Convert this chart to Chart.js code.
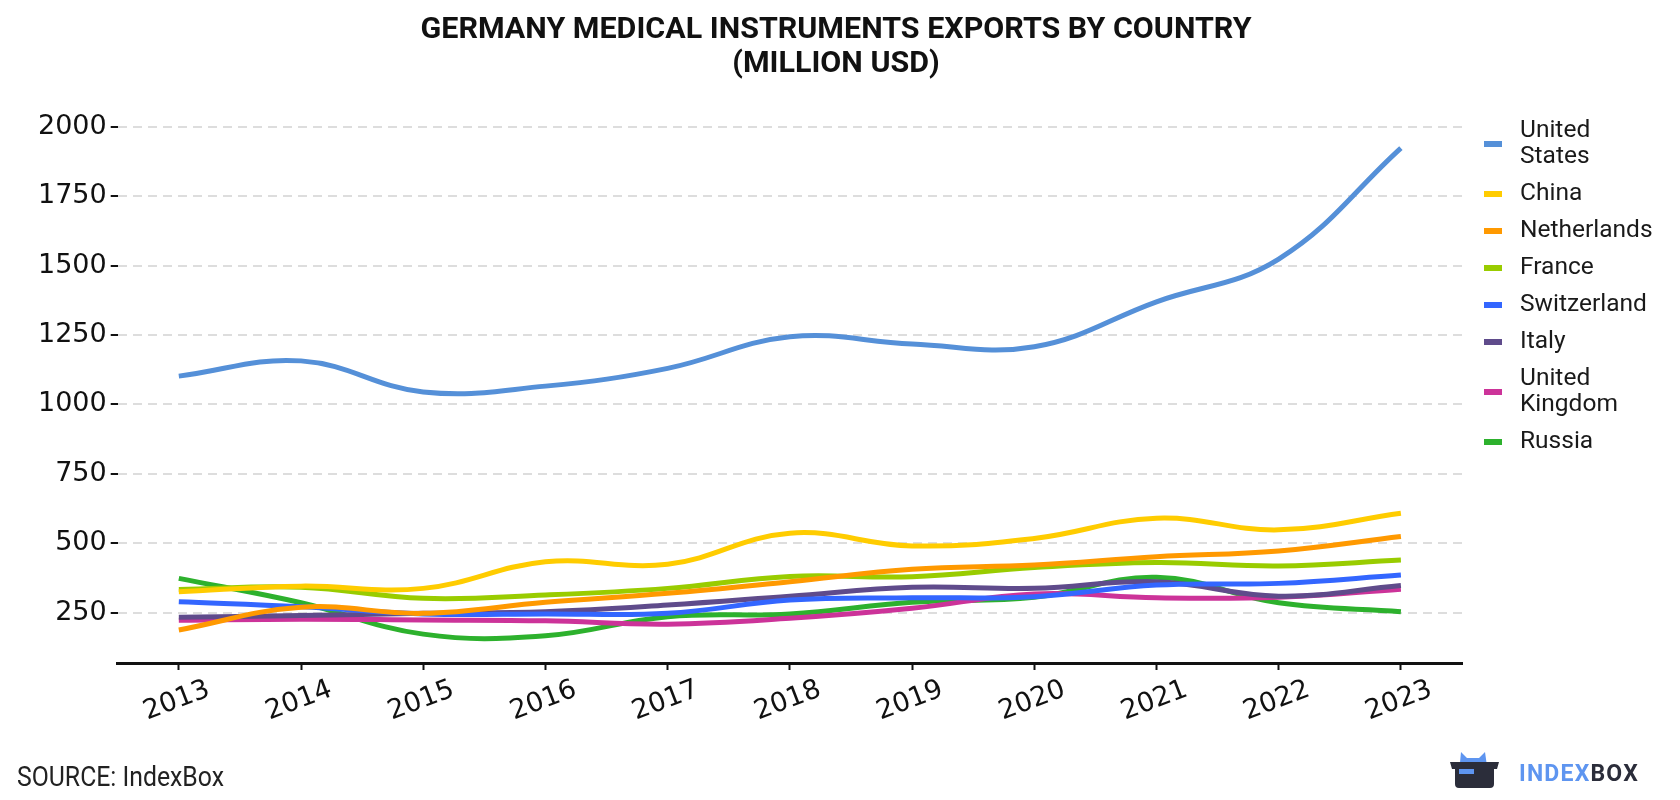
<!DOCTYPE html>
<html>
<head>
<meta charset="utf-8">
<title>Germany Medical Instruments Exports by Country</title>
<script src="https://cdn.jsdelivr.net/npm/chart.js@4.4.1/dist/chart.umd.min.js"></script>
<style>
  html, body { margin: 0; padding: 0; background: #fff; }
  #wrap { width: 1680px; height: 800px; position: relative; }
</style>
</head>
<body>
<div id="wrap"><canvas id="chart" width="1680" height="800"></canvas></div>
<script>
// ─── Data (million USD) ─────────────────────────────────────────────
const years = ["2013", "2014", "2015", "2016", "2017", "2018", "2019", "2020", "2021", "2022", "2023"];

const unitedStates  = [1102, 1157, 1045, 1066, 1130, 1244, 1218, 1208, 1370, 1524, 1924];
const china         = [325, 345, 337, 433, 424, 536, 490, 517, 590, 548, 608];
const netherlands   = [187, 269, 247, 287, 319, 361, 406, 421, 451, 472, 524];
const france        = [333, 341, 301, 313, 337, 380, 379, 412, 430, 418, 439];
const switzerland   = [289, 271, 245, 245, 247, 295, 303, 307, 349, 355, 385];
const italy         = [233, 239, 247, 253, 277, 309, 341, 337, 361, 309, 347];
const unitedKingdom = [222, 226, 223, 220, 208, 229, 265, 317, 303, 305, 334];
const russia        = [373, 285, 172, 166, 235, 245, 287, 305, 377, 285, 253];

const seriesNames  = ["United States", "China", "Netherlands", "France", "Switzerland", "Italy", "United Kingdom", "Russia"];
const seriesValues = [unitedStates, china, netherlands, france, switzerland, italy, unitedKingdom, russia];
const seriesColors = ["#5590d8", "#ffcc00", "#ff9900", "#99cc00", "#3366ff", "#5f4b8b", "#cc3399", "#2db12d"];

const yTicks = [250, 500, 750, 1000, 1250, 1500, 1750, 2000];
const titleLines = ["GERMANY MEDICAL INSTRUMENTS EXPORTS BY COUNTRY", "(MILLION USD)"];
const sourceText = "SOURCE: IndexBox";

// ─── Decorations drawn on the canvas ────────────────────────────────
const decorPlugin = {
  id: "decor",
  afterDraw(chart) {
    const { ctx, chartArea, scales } = chart;
    ctx.save();

    // title (slightly condensed)
    ctx.fillStyle = "#111";
    ctx.font = "bold 29.5px Roboto";
    ctx.textAlign = "center";
    ctx.textBaseline = "alphabetic";
    const sx = 831 / ctx.measureText(titleLines[0]).width;
    [37.5, 71.5].forEach((y, i) => {
      ctx.save();
      ctx.translate(836, y);
      ctx.scale(sx, 1);
      ctx.fillText(titleLines[i], 0, 0);
      ctx.restore();
    });

    // rotated x labels, centred under their ticks
    ctx.font = "27px 'DejaVu Sans'";
    ctx.fillStyle = "#111";
    ctx.textAlign = "center";
    ctx.textBaseline = "middle";
    years.forEach((yr, i) => {
      const x = scales.x.getPixelForValue(i);
      ctx.save();
      ctx.translate(x - 2, chartArea.bottom + 38);
      ctx.rotate(-21 * Math.PI / 180);
      ctx.fillText(yr, 0, 0);
      ctx.restore();
    });

    // legend
    ctx.font = "24.5px Roboto";
    ctx.textAlign = "left";
    ctx.textBaseline = "middle";
    const lineH = 26, gap = 11;
    let y = 118;
    chart.data.datasets.forEach((ds) => {
      const lines = ds.label.startsWith("United ") ? ds.label.split(" ") : [ds.label];
      const h = lines.length * lineH;
      ctx.fillStyle = ds.borderColor;
      ctx.fillRect(1484, y + h / 2 - 3, 18, 6);
      ctx.fillStyle = "#1a1a1a";
      lines.forEach((t, k) => ctx.fillText(t, 1520, y + lineH / 2 + k * lineH));
      y += h + gap;
    });

    // source
    ctx.font = "28px Roboto";
    ctx.fillStyle = "#222";
    ctx.textBaseline = "alphabetic";
    const ssx = 207 / ctx.measureText(sourceText).width;
    ctx.save();
    ctx.translate(17, 785.5);
    ctx.scale(ssx, 1);
    ctx.fillText(sourceText, 0, 0);
    ctx.restore();

    // logo icon
    ctx.fillStyle = "#5e95f0";
    ctx.beginPath();
    ctx.moveTo(1459, 773);
    ctx.lineTo(1461, 752);
    ctx.lineTo(1467, 758);
    ctx.lineTo(1479, 758);
    ctx.lineTo(1485, 752);
    ctx.lineTo(1488, 773);
    ctx.closePath();
    ctx.fill();
    ctx.fillStyle = "#2b2d3a";
    ctx.beginPath();
    ctx.moveTo(1450, 762);
    ctx.lineTo(1499, 762);
    ctx.lineTo(1497, 769);
    ctx.lineTo(1494, 769);
    ctx.lineTo(1494, 784);
    ctx.quadraticCurveTo(1494, 788, 1490, 788);
    ctx.lineTo(1459, 788);
    ctx.quadraticCurveTo(1455, 788, 1455, 784);
    ctx.lineTo(1455, 769);
    ctx.lineTo(1452, 769);
    ctx.closePath();
    ctx.fill();
    ctx.fillStyle = "#5e95f0";
    ctx.fillRect(1459, 769, 15, 5);

    // logo text
    ctx.font = "bold 23px Roboto";
    ctx.letterSpacing = "1.2px";
    ctx.textBaseline = "alphabetic";
    ctx.fillStyle = "#5e95f0";
    ctx.fillText("INDEX", 1519, 781);
    const w = ctx.measureText("INDEX").width;
    ctx.fillStyle = "#2b2d3a";
    ctx.fillText("BOX", 1519 + w, 781);

    ctx.restore();
  },
};

// ─── Chart ──────────────────────────────────────────────────────────
new Chart(document.getElementById("chart").getContext("2d"), {
  type: "line",
  data: {
    labels: years,
    datasets: seriesNames.map((name, i) => ({
      label: name,
      data: seriesValues[i],
      borderColor: seriesColors[i],
      backgroundColor: seriesColors[i],
      borderWidth: 5,
      pointRadius: 0,
      tension: 0.4,
      fill: false,
    })),
  },
  options: {
    responsive: false,
    devicePixelRatio: 1,
    animation: false,
    layout: { padding: { top: 127, left: 34, right: 218, bottom: 130 } },
    plugins: {
      legend: { display: false },
      title: { display: false },
      tooltip: { enabled: false },
    },
    scales: {
      x: {
        offset: true,
        ticks: { display: false },
        grid: {
          drawOnChartArea: false,
          drawTicks: true,
          tickLength: 7,
          tickColor: "#111",
          tickWidth: 2,
        },
        border: { display: true, color: "#111", width: 3 },
      },
      y: {
        min: 68,
        max: 2000,
        afterBuildTicks: (axis) => {
          axis.ticks = yTicks.map((v) => ({ value: v }));
        },
        ticks: {
          color: "#111",
          font: { family: "'DejaVu Sans'", size: 27 },
          padding: 4,
          callback: (v) => String(v),
        },
        grid: {
          color: "#dddddd",
          lineWidth: 2,
          tickLength: 7,
          tickColor: "#111",
          tickWidth: 2,
          tickBorderDash: [],
        },
        border: { display: false, dash: [9, 6] },
      },
    },
  },
  plugins: [decorPlugin],
});
</script>
</body>
</html>
